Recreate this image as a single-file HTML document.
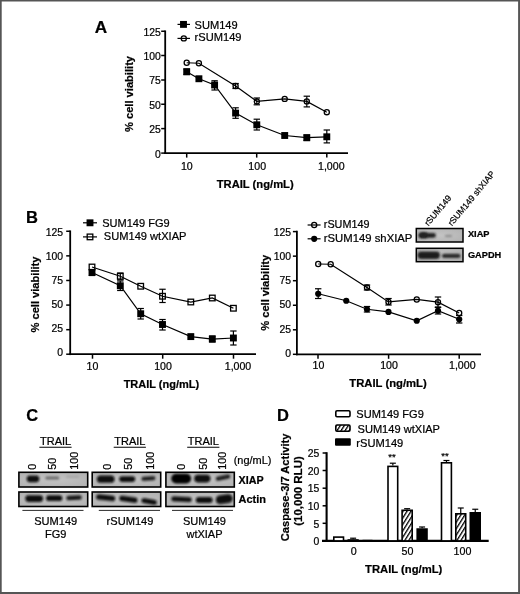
<!DOCTYPE html>
<html><head><meta charset="utf-8"><title>Figure</title>
<style>html,body{margin:0;padding:0;background:#fff}body{width:520px;height:594px;overflow:hidden}svg{display:block}svg text{font-family:"Liberation Sans",Arial,Helvetica,sans-serif;stroke:#000;stroke-width:0.22px}</style>
</head><body>
<svg width="520" height="594" viewBox="0 0 520 594" font-family="Liberation Sans, Arial, Helvetica, sans-serif" fill="#000">
<defs>
<filter id="b1" x="-30%" y="-80%" width="160%" height="260%"><feGaussianBlur stdDeviation="1"/></filter>
<radialGradient id="gel" cx="50%" cy="50%" r="70%"><stop offset="0" stop-color="#c4c4c4"/><stop offset="1" stop-color="#b1b1b1"/></radialGradient>
<pattern id="hat" width="3.4" height="3.4" patternUnits="userSpaceOnUse" patternTransform="rotate(-58)"><rect width="3.4" height="3.4" fill="#fff"/><rect width="3.4" height="1.3" fill="#000"/></pattern>
</defs>
<rect x="0" y="0" width="520" height="594" fill="#fff"/>
<rect x="0" y="0" width="520" height="1.5" fill="#555"/><rect x="0" y="0" width="1.7" height="594" fill="#555"/><rect x="518.1" y="0" width="1.9" height="594" fill="#555"/><rect x="0" y="592" width="520" height="2" fill="#555"/>
<text x="94.8" y="32.6" font-size="16.5" text-anchor="start" font-weight="bold" textLength="12.4" lengthAdjust="spacingAndGlyphs" >A</text>
<line x1="165.2" y1="30.45" x2="165.2" y2="154.0" stroke="#000" stroke-width="1.8" stroke-linecap="butt"/>
<line x1="164.29999999999998" y1="153.1" x2="348" y2="153.1" stroke="#000" stroke-width="1.8" stroke-linecap="butt"/>
<line x1="161.2" y1="31.25" x2="165.2" y2="31.25" stroke="#000" stroke-width="1.5" stroke-linecap="butt"/>
<text x="160.79999999999998" y="35.65" font-size="10.4" text-anchor="end" >125</text>
<line x1="161.2" y1="55.5" x2="165.2" y2="55.5" stroke="#000" stroke-width="1.5" stroke-linecap="butt"/>
<text x="160.79999999999998" y="59.900000000000006" font-size="10.4" text-anchor="end" >100</text>
<line x1="161.2" y1="80" x2="165.2" y2="80" stroke="#000" stroke-width="1.5" stroke-linecap="butt"/>
<text x="160.79999999999998" y="84.4" font-size="10.4" text-anchor="end" >75</text>
<line x1="161.2" y1="104.25" x2="165.2" y2="104.25" stroke="#000" stroke-width="1.5" stroke-linecap="butt"/>
<text x="160.79999999999998" y="108.65" font-size="10.4" text-anchor="end" >50</text>
<line x1="161.2" y1="128.6" x2="165.2" y2="128.6" stroke="#000" stroke-width="1.5" stroke-linecap="butt"/>
<text x="160.79999999999998" y="132.99999999999997" font-size="10.4" text-anchor="end" >25</text>
<line x1="161.2" y1="153.1" x2="165.2" y2="153.1" stroke="#000" stroke-width="1.5" stroke-linecap="butt"/>
<text x="160.79999999999998" y="157.49999999999997" font-size="10.4" text-anchor="end" >0</text>
<line x1="186.7" y1="153.1" x2="186.7" y2="157.6" stroke="#000" stroke-width="1.5" stroke-linecap="butt"/>
<text x="186.8" y="169.5" font-size="10.6" text-anchor="middle" >10</text>
<line x1="256.7" y1="153.1" x2="256.7" y2="157.6" stroke="#000" stroke-width="1.5" stroke-linecap="butt"/>
<text x="257.2" y="169.5" font-size="10.6" text-anchor="middle" >100</text>
<line x1="326.8" y1="153.1" x2="326.8" y2="157.6" stroke="#000" stroke-width="1.5" stroke-linecap="butt"/>
<text x="331.3" y="169.5" font-size="10.6" text-anchor="middle" >1,000</text>
<text x="255.2" y="188" font-size="11.6" text-anchor="middle" font-weight="bold" textLength="77" lengthAdjust="spacingAndGlyphs" >TRAIL (ng/mL)</text>
<text x="132.6" y="93.975" font-size="11.2" text-anchor="middle" font-weight="bold" transform="rotate(-90 132.6 93.975)" textLength="76" lengthAdjust="spacingAndGlyphs" >% cell viability</text>
<line x1="177.5" y1="24.4" x2="190" y2="24.4" stroke="#000" stroke-width="1.2" stroke-linecap="butt"/>
<rect x="180.05" y="20.95" width="6.9" height="6.9" fill="#000"/>
<text x="194.6" y="28.6" font-size="11" text-anchor="start" textLength="43.1" lengthAdjust="spacingAndGlyphs" >SUM149</text>
<line x1="177.5" y1="38.4" x2="190" y2="38.4" stroke="#000" stroke-width="1.2" stroke-linecap="butt"/>
<circle cx="183.8" cy="38.4" r="2.5500000000000003" fill="none" stroke="#000" stroke-width="1.3"/>
<text x="194.6" y="40.8" font-size="11" text-anchor="start" textLength="46.9" lengthAdjust="spacingAndGlyphs" >rSUM149</text>
<polyline fill="none" stroke="#000" stroke-width="1.25" points="186.7,62.75 198.9,63.25 235.6,86 256.8,101.4 284.7,98.9 306.8,101.4 326.8,112.2"/>
<polyline fill="none" stroke="#000" stroke-width="1.25" points="186.7,71.75 198.9,78.75 214.6,85 235.6,113.1 256.8,124.8 284.7,135.5 306.8,137.7 326.8,136.8"/>
<line x1="214.6" y1="80.75" x2="214.6" y2="90" stroke="#000" stroke-width="1.2" stroke-linecap="butt"/>
<line x1="211.4" y1="80.75" x2="217.79999999999998" y2="80.75" stroke="#000" stroke-width="1.2" stroke-linecap="butt"/>
<line x1="211.4" y1="90" x2="217.79999999999998" y2="90" stroke="#000" stroke-width="1.2" stroke-linecap="butt"/>
<line x1="235.6" y1="107.8" x2="235.6" y2="118.3" stroke="#000" stroke-width="1.2" stroke-linecap="butt"/>
<line x1="232.4" y1="107.8" x2="238.79999999999998" y2="107.8" stroke="#000" stroke-width="1.2" stroke-linecap="butt"/>
<line x1="232.4" y1="118.3" x2="238.79999999999998" y2="118.3" stroke="#000" stroke-width="1.2" stroke-linecap="butt"/>
<line x1="256.8" y1="119.2" x2="256.8" y2="130" stroke="#000" stroke-width="1.2" stroke-linecap="butt"/>
<line x1="253.60000000000002" y1="119.2" x2="260.0" y2="119.2" stroke="#000" stroke-width="1.2" stroke-linecap="butt"/>
<line x1="253.60000000000002" y1="130" x2="260.0" y2="130" stroke="#000" stroke-width="1.2" stroke-linecap="butt"/>
<line x1="326.8" y1="130" x2="326.8" y2="142.9" stroke="#000" stroke-width="1.2" stroke-linecap="butt"/>
<line x1="323.6" y1="130" x2="330.0" y2="130" stroke="#000" stroke-width="1.2" stroke-linecap="butt"/>
<line x1="323.6" y1="142.9" x2="330.0" y2="142.9" stroke="#000" stroke-width="1.2" stroke-linecap="butt"/>
<line x1="306.8" y1="135" x2="306.8" y2="140.5" stroke="#000" stroke-width="1.2" stroke-linecap="butt"/>
<line x1="303.6" y1="135" x2="310.0" y2="135" stroke="#000" stroke-width="1.2" stroke-linecap="butt"/>
<line x1="303.6" y1="140.5" x2="310.0" y2="140.5" stroke="#000" stroke-width="1.2" stroke-linecap="butt"/>
<line x1="186.7" y1="69" x2="186.7" y2="74.5" stroke="#000" stroke-width="1.2" stroke-linecap="butt"/>
<line x1="183.5" y1="69" x2="189.89999999999998" y2="69" stroke="#000" stroke-width="1.2" stroke-linecap="butt"/>
<line x1="183.5" y1="74.5" x2="189.89999999999998" y2="74.5" stroke="#000" stroke-width="1.2" stroke-linecap="butt"/>
<line x1="306.8" y1="96.2" x2="306.8" y2="106.9" stroke="#000" stroke-width="1.2" stroke-linecap="butt"/>
<line x1="303.6" y1="96.2" x2="310.0" y2="96.2" stroke="#000" stroke-width="1.2" stroke-linecap="butt"/>
<line x1="303.6" y1="106.9" x2="310.0" y2="106.9" stroke="#000" stroke-width="1.2" stroke-linecap="butt"/>
<line x1="256.8" y1="98" x2="256.8" y2="104.8" stroke="#000" stroke-width="1.2" stroke-linecap="butt"/>
<line x1="253.60000000000002" y1="98" x2="260.0" y2="98" stroke="#000" stroke-width="1.2" stroke-linecap="butt"/>
<line x1="253.60000000000002" y1="104.8" x2="260.0" y2="104.8" stroke="#000" stroke-width="1.2" stroke-linecap="butt"/>
<line x1="235.6" y1="83.5" x2="235.6" y2="88.5" stroke="#000" stroke-width="1.2" stroke-linecap="butt"/>
<line x1="232.4" y1="83.5" x2="238.79999999999998" y2="83.5" stroke="#000" stroke-width="1.2" stroke-linecap="butt"/>
<line x1="232.4" y1="88.5" x2="238.79999999999998" y2="88.5" stroke="#000" stroke-width="1.2" stroke-linecap="butt"/>
<rect x="183.25" y="68.3" width="6.9" height="6.9" fill="#000"/>
<rect x="195.45000000000002" y="75.3" width="6.9" height="6.9" fill="#000"/>
<rect x="211.15" y="81.55" width="6.9" height="6.9" fill="#000"/>
<rect x="232.15" y="109.64999999999999" width="6.9" height="6.9" fill="#000"/>
<rect x="253.35000000000002" y="121.35" width="6.9" height="6.9" fill="#000"/>
<rect x="281.25" y="132.05" width="6.9" height="6.9" fill="#000"/>
<rect x="303.35" y="134.25" width="6.9" height="6.9" fill="#000"/>
<rect x="323.35" y="133.35000000000002" width="6.9" height="6.9" fill="#000"/>
<circle cx="186.7" cy="62.75" r="2.5500000000000003" fill="none" stroke="#000" stroke-width="1.3"/>
<circle cx="198.9" cy="63.25" r="2.5500000000000003" fill="none" stroke="#000" stroke-width="1.3"/>
<circle cx="235.6" cy="86" r="2.5500000000000003" fill="none" stroke="#000" stroke-width="1.3"/>
<circle cx="256.8" cy="101.4" r="2.5500000000000003" fill="none" stroke="#000" stroke-width="1.3"/>
<circle cx="284.7" cy="98.9" r="2.5500000000000003" fill="none" stroke="#000" stroke-width="1.3"/>
<circle cx="306.8" cy="101.4" r="2.5500000000000003" fill="none" stroke="#000" stroke-width="1.3"/>
<circle cx="326.8" cy="112.2" r="2.5500000000000003" fill="none" stroke="#000" stroke-width="1.3"/>
<text x="26" y="223" font-size="16.5" text-anchor="start" font-weight="bold" >B</text>
<line x1="70.2" y1="230.45" x2="70.2" y2="355.09999999999997" stroke="#000" stroke-width="1.8" stroke-linecap="butt"/>
<line x1="69.3" y1="354.2" x2="256" y2="354.2" stroke="#000" stroke-width="1.8" stroke-linecap="butt"/>
<line x1="66.2" y1="231.25" x2="70.2" y2="231.25" stroke="#000" stroke-width="1.5" stroke-linecap="butt"/>
<text x="63.1" y="235.6" font-size="10.4" text-anchor="end" >125</text>
<line x1="66.2" y1="255.86" x2="70.2" y2="255.86" stroke="#000" stroke-width="1.5" stroke-linecap="butt"/>
<text x="63.1" y="259.7" font-size="10.4" text-anchor="end" >100</text>
<line x1="66.2" y1="280.47" x2="70.2" y2="280.47" stroke="#000" stroke-width="1.5" stroke-linecap="butt"/>
<text x="63.1" y="283.8" font-size="10.4" text-anchor="end" >75</text>
<line x1="66.2" y1="305.08" x2="70.2" y2="305.08" stroke="#000" stroke-width="1.5" stroke-linecap="butt"/>
<text x="63.1" y="308.0" font-size="10.4" text-anchor="end" >50</text>
<line x1="66.2" y1="329.69" x2="70.2" y2="329.69" stroke="#000" stroke-width="1.5" stroke-linecap="butt"/>
<text x="63.1" y="332.09999999999997" font-size="10.4" text-anchor="end" >25</text>
<line x1="66.2" y1="354.2" x2="70.2" y2="354.2" stroke="#000" stroke-width="1.5" stroke-linecap="butt"/>
<text x="63.1" y="356.3" font-size="10.4" text-anchor="end" >0</text>
<line x1="92.5" y1="354.2" x2="92.5" y2="358.7" stroke="#000" stroke-width="1.5" stroke-linecap="butt"/>
<text x="92.5" y="370.0" font-size="10.6" text-anchor="middle" >10</text>
<line x1="162.7" y1="354.2" x2="162.7" y2="358.7" stroke="#000" stroke-width="1.5" stroke-linecap="butt"/>
<text x="163" y="370.0" font-size="10.6" text-anchor="middle" >100</text>
<line x1="233.5" y1="354.2" x2="233.5" y2="358.7" stroke="#000" stroke-width="1.5" stroke-linecap="butt"/>
<text x="238" y="370.0" font-size="10.6" text-anchor="middle" >1,000</text>
<text x="161.4" y="388.3" font-size="11.6" text-anchor="middle" font-weight="bold" textLength="75.5" lengthAdjust="spacingAndGlyphs" >TRAIL (ng/mL)</text>
<text x="39" y="294.52500000000003" font-size="11.2" text-anchor="middle" font-weight="bold" transform="rotate(-90 39 294.52500000000003)" textLength="76" lengthAdjust="spacingAndGlyphs" >% cell viability</text>
<line x1="83" y1="222.8" x2="97" y2="222.8" stroke="#000" stroke-width="1.2" stroke-linecap="butt"/>
<rect x="86.55" y="219.35000000000002" width="6.9" height="6.9" fill="#000"/>
<text x="102.2" y="226.8" font-size="11" text-anchor="start" textLength="67.4" lengthAdjust="spacingAndGlyphs" >SUM149 FG9</text>
<line x1="83" y1="236.9" x2="97" y2="236.9" stroke="#000" stroke-width="1.2" stroke-linecap="butt"/>
<rect x="87.2" y="234.10000000000002" width="5.6000000000000005" height="5.6000000000000005" fill="none" stroke="#000" stroke-width="1.3"/>
<text x="103.8" y="240" font-size="11" text-anchor="start" textLength="82.7" lengthAdjust="spacingAndGlyphs" >SUM149 wtXIAP</text>
<polyline fill="none" stroke="#000" stroke-width="1.25" points="92,267 120.3,276.25 140.7,286.25 162.5,296.25 190.8,302 212.3,298 233.4,308.25"/>
<polyline fill="none" stroke="#000" stroke-width="1.25" points="92,272.5 120.3,285.75 140.7,313.75 162.5,324.5 190.8,336.6 212.3,339 233.4,338"/>
<line x1="162.5" y1="289.25" x2="162.5" y2="302.5" stroke="#000" stroke-width="1.2" stroke-linecap="butt"/>
<line x1="159.3" y1="289.25" x2="165.7" y2="289.25" stroke="#000" stroke-width="1.2" stroke-linecap="butt"/>
<line x1="159.3" y1="302.5" x2="165.7" y2="302.5" stroke="#000" stroke-width="1.2" stroke-linecap="butt"/>
<line x1="120.3" y1="281" x2="120.3" y2="290.5" stroke="#000" stroke-width="1.2" stroke-linecap="butt"/>
<line x1="117.1" y1="281" x2="123.5" y2="281" stroke="#000" stroke-width="1.2" stroke-linecap="butt"/>
<line x1="117.1" y1="290.5" x2="123.5" y2="290.5" stroke="#000" stroke-width="1.2" stroke-linecap="butt"/>
<line x1="140.7" y1="308.5" x2="140.7" y2="319" stroke="#000" stroke-width="1.2" stroke-linecap="butt"/>
<line x1="137.5" y1="308.5" x2="143.89999999999998" y2="308.5" stroke="#000" stroke-width="1.2" stroke-linecap="butt"/>
<line x1="137.5" y1="319" x2="143.89999999999998" y2="319" stroke="#000" stroke-width="1.2" stroke-linecap="butt"/>
<line x1="162.5" y1="319.5" x2="162.5" y2="330" stroke="#000" stroke-width="1.2" stroke-linecap="butt"/>
<line x1="159.3" y1="319.5" x2="165.7" y2="319.5" stroke="#000" stroke-width="1.2" stroke-linecap="butt"/>
<line x1="159.3" y1="330" x2="165.7" y2="330" stroke="#000" stroke-width="1.2" stroke-linecap="butt"/>
<line x1="233.4" y1="331" x2="233.4" y2="345" stroke="#000" stroke-width="1.2" stroke-linecap="butt"/>
<line x1="230.20000000000002" y1="331" x2="236.6" y2="331" stroke="#000" stroke-width="1.2" stroke-linecap="butt"/>
<line x1="230.20000000000002" y1="345" x2="236.6" y2="345" stroke="#000" stroke-width="1.2" stroke-linecap="butt"/>
<line x1="92" y1="269.5" x2="92" y2="275.5" stroke="#000" stroke-width="1.2" stroke-linecap="butt"/>
<line x1="88.8" y1="269.5" x2="95.2" y2="269.5" stroke="#000" stroke-width="1.2" stroke-linecap="butt"/>
<line x1="88.8" y1="275.5" x2="95.2" y2="275.5" stroke="#000" stroke-width="1.2" stroke-linecap="butt"/>
<line x1="212.3" y1="336" x2="212.3" y2="342" stroke="#000" stroke-width="1.2" stroke-linecap="butt"/>
<line x1="209.10000000000002" y1="336" x2="215.5" y2="336" stroke="#000" stroke-width="1.2" stroke-linecap="butt"/>
<line x1="209.10000000000002" y1="342" x2="215.5" y2="342" stroke="#000" stroke-width="1.2" stroke-linecap="butt"/>
<line x1="120.3" y1="273" x2="120.3" y2="279.8" stroke="#000" stroke-width="1.2" stroke-linecap="butt"/>
<line x1="117.1" y1="273" x2="123.5" y2="273" stroke="#000" stroke-width="1.2" stroke-linecap="butt"/>
<line x1="117.1" y1="279.8" x2="123.5" y2="279.8" stroke="#000" stroke-width="1.2" stroke-linecap="butt"/>
<rect x="88.55" y="269.05" width="6.9" height="6.9" fill="#000"/>
<rect x="116.85" y="282.3" width="6.9" height="6.9" fill="#000"/>
<rect x="137.25" y="310.3" width="6.9" height="6.9" fill="#000"/>
<rect x="159.05" y="321.05" width="6.9" height="6.9" fill="#000"/>
<rect x="187.35000000000002" y="333.15000000000003" width="6.9" height="6.9" fill="#000"/>
<rect x="208.85000000000002" y="335.55" width="6.9" height="6.9" fill="#000"/>
<rect x="229.95000000000002" y="334.55" width="6.9" height="6.9" fill="#000"/>
<rect x="89.2" y="264.2" width="5.6000000000000005" height="5.6000000000000005" fill="none" stroke="#000" stroke-width="1.3"/>
<rect x="117.5" y="273.45" width="5.6000000000000005" height="5.6000000000000005" fill="none" stroke="#000" stroke-width="1.3"/>
<rect x="137.9" y="283.45" width="5.6000000000000005" height="5.6000000000000005" fill="none" stroke="#000" stroke-width="1.3"/>
<rect x="159.70000000000002" y="293.45" width="5.6000000000000005" height="5.6000000000000005" fill="none" stroke="#000" stroke-width="1.3"/>
<rect x="188.00000000000003" y="299.2" width="5.6000000000000005" height="5.6000000000000005" fill="none" stroke="#000" stroke-width="1.3"/>
<rect x="209.50000000000003" y="295.2" width="5.6000000000000005" height="5.6000000000000005" fill="none" stroke="#000" stroke-width="1.3"/>
<rect x="230.60000000000002" y="305.45" width="5.6000000000000005" height="5.6000000000000005" fill="none" stroke="#000" stroke-width="1.3"/>
<line x1="296.9" y1="230.79999999999998" x2="296.9" y2="355.2" stroke="#000" stroke-width="1.8" stroke-linecap="butt"/>
<line x1="296.0" y1="354.3" x2="481" y2="354.3" stroke="#000" stroke-width="1.8" stroke-linecap="butt"/>
<line x1="292.9" y1="231.6" x2="296.9" y2="231.6" stroke="#000" stroke-width="1.5" stroke-linecap="butt"/>
<text x="291.09999999999997" y="235.89999999999998" font-size="10.4" text-anchor="end" >125</text>
<line x1="292.9" y1="256.15" x2="296.9" y2="256.15" stroke="#000" stroke-width="1.5" stroke-linecap="butt"/>
<text x="291.09999999999997" y="260.0" font-size="10.4" text-anchor="end" >100</text>
<line x1="292.9" y1="280.7" x2="296.9" y2="280.7" stroke="#000" stroke-width="1.5" stroke-linecap="butt"/>
<text x="291.09999999999997" y="284.0" font-size="10.4" text-anchor="end" >75</text>
<line x1="292.9" y1="305.25" x2="296.9" y2="305.25" stroke="#000" stroke-width="1.5" stroke-linecap="butt"/>
<text x="291.09999999999997" y="308.09999999999997" font-size="10.4" text-anchor="end" >50</text>
<line x1="292.9" y1="329.8" x2="296.9" y2="329.8" stroke="#000" stroke-width="1.5" stroke-linecap="butt"/>
<text x="291.09999999999997" y="332.59999999999997" font-size="10.4" text-anchor="end" >25</text>
<line x1="292.9" y1="354.3" x2="296.9" y2="354.3" stroke="#000" stroke-width="1.5" stroke-linecap="butt"/>
<text x="291.09999999999997" y="357.2" font-size="10.4" text-anchor="end" >0</text>
<line x1="318" y1="354.3" x2="318" y2="358.8" stroke="#000" stroke-width="1.5" stroke-linecap="butt"/>
<text x="318.5" y="369.1" font-size="10.6" text-anchor="middle" >10</text>
<line x1="388.6" y1="354.3" x2="388.6" y2="358.8" stroke="#000" stroke-width="1.5" stroke-linecap="butt"/>
<text x="389" y="369.1" font-size="10.6" text-anchor="middle" >100</text>
<line x1="459.2" y1="354.3" x2="459.2" y2="358.8" stroke="#000" stroke-width="1.5" stroke-linecap="butt"/>
<text x="462.3" y="369.1" font-size="10.6" text-anchor="middle" >1,000</text>
<text x="388" y="387.4" font-size="11.6" text-anchor="middle" font-weight="bold" textLength="77.5" lengthAdjust="spacingAndGlyphs" >TRAIL (ng/mL)</text>
<text x="269.1" y="292.75" font-size="11.2" text-anchor="middle" font-weight="bold" transform="rotate(-90 269.1 292.75)" textLength="76" lengthAdjust="spacingAndGlyphs" >% cell viability</text>
<line x1="307.6" y1="225" x2="320.6" y2="225" stroke="#000" stroke-width="1.2" stroke-linecap="butt"/>
<circle cx="314.2" cy="225" r="2.5500000000000003" fill="none" stroke="#000" stroke-width="1.3"/>
<text x="323.8" y="228" font-size="11" text-anchor="start" textLength="45.6" lengthAdjust="spacingAndGlyphs" >rSUM149</text>
<line x1="307.6" y1="238.8" x2="320.6" y2="238.8" stroke="#000" stroke-width="1.2" stroke-linecap="butt"/>
<circle cx="314.2" cy="238.8" r="3.1" fill="#000"/>
<text x="323.8" y="241.8" font-size="11" text-anchor="start" textLength="88.6" lengthAdjust="spacingAndGlyphs" >rSUM149 shXIAP</text>
<polyline fill="none" stroke="#000" stroke-width="1.25" points="318.2,264 330.7,264.25 367,287.5 388.5,301.9 416.75,299.5 438,302.2 459.2,313"/>
<polyline fill="none" stroke="#000" stroke-width="1.25" points="318.2,293.75 346.25,300.75 367,309.25 388.5,311.9 416.75,320.75 438,310.75 459.2,319.25"/>
<line x1="318.2" y1="288.75" x2="318.2" y2="298.5" stroke="#000" stroke-width="1.2" stroke-linecap="butt"/>
<line x1="315.0" y1="288.75" x2="321.4" y2="288.75" stroke="#000" stroke-width="1.2" stroke-linecap="butt"/>
<line x1="315.0" y1="298.5" x2="321.4" y2="298.5" stroke="#000" stroke-width="1.2" stroke-linecap="butt"/>
<line x1="367" y1="306.5" x2="367" y2="312" stroke="#000" stroke-width="1.2" stroke-linecap="butt"/>
<line x1="363.8" y1="306.5" x2="370.2" y2="306.5" stroke="#000" stroke-width="1.2" stroke-linecap="butt"/>
<line x1="363.8" y1="312" x2="370.2" y2="312" stroke="#000" stroke-width="1.2" stroke-linecap="butt"/>
<line x1="438" y1="307.5" x2="438" y2="314" stroke="#000" stroke-width="1.2" stroke-linecap="butt"/>
<line x1="434.8" y1="307.5" x2="441.2" y2="307.5" stroke="#000" stroke-width="1.2" stroke-linecap="butt"/>
<line x1="434.8" y1="314" x2="441.2" y2="314" stroke="#000" stroke-width="1.2" stroke-linecap="butt"/>
<line x1="459.2" y1="315.5" x2="459.2" y2="323" stroke="#000" stroke-width="1.2" stroke-linecap="butt"/>
<line x1="456.0" y1="315.5" x2="462.4" y2="315.5" stroke="#000" stroke-width="1.2" stroke-linecap="butt"/>
<line x1="456.0" y1="323" x2="462.4" y2="323" stroke="#000" stroke-width="1.2" stroke-linecap="butt"/>
<line x1="367" y1="285" x2="367" y2="290" stroke="#000" stroke-width="1.2" stroke-linecap="butt"/>
<line x1="363.8" y1="285" x2="370.2" y2="285" stroke="#000" stroke-width="1.2" stroke-linecap="butt"/>
<line x1="363.8" y1="290" x2="370.2" y2="290" stroke="#000" stroke-width="1.2" stroke-linecap="butt"/>
<line x1="388.5" y1="298.5" x2="388.5" y2="305" stroke="#000" stroke-width="1.2" stroke-linecap="butt"/>
<line x1="385.3" y1="298.5" x2="391.7" y2="298.5" stroke="#000" stroke-width="1.2" stroke-linecap="butt"/>
<line x1="385.3" y1="305" x2="391.7" y2="305" stroke="#000" stroke-width="1.2" stroke-linecap="butt"/>
<line x1="438" y1="297" x2="438" y2="307" stroke="#000" stroke-width="1.2" stroke-linecap="butt"/>
<line x1="434.8" y1="297" x2="441.2" y2="297" stroke="#000" stroke-width="1.2" stroke-linecap="butt"/>
<line x1="434.8" y1="307" x2="441.2" y2="307" stroke="#000" stroke-width="1.2" stroke-linecap="butt"/>
<circle cx="318.2" cy="293.75" r="3.1" fill="#000"/>
<circle cx="346.25" cy="300.75" r="3.1" fill="#000"/>
<circle cx="367" cy="309.25" r="3.1" fill="#000"/>
<circle cx="388.5" cy="311.9" r="3.1" fill="#000"/>
<circle cx="416.75" cy="320.75" r="3.1" fill="#000"/>
<circle cx="438" cy="310.75" r="3.1" fill="#000"/>
<circle cx="459.2" cy="319.25" r="3.1" fill="#000"/>
<circle cx="318.2" cy="264" r="2.5500000000000003" fill="none" stroke="#000" stroke-width="1.3"/>
<circle cx="330.7" cy="264.25" r="2.5500000000000003" fill="none" stroke="#000" stroke-width="1.3"/>
<circle cx="367" cy="287.5" r="2.5500000000000003" fill="none" stroke="#000" stroke-width="1.3"/>
<circle cx="388.5" cy="301.9" r="2.5500000000000003" fill="none" stroke="#000" stroke-width="1.3"/>
<circle cx="416.75" cy="299.5" r="2.5500000000000003" fill="none" stroke="#000" stroke-width="1.3"/>
<circle cx="438" cy="302.2" r="2.5500000000000003" fill="none" stroke="#000" stroke-width="1.3"/>
<circle cx="459.2" cy="313" r="2.5500000000000003" fill="none" stroke="#000" stroke-width="1.3"/>
<rect x="416.3" y="228.5" width="46.7" height="13.5" fill="url(#gel)" stroke="#000" stroke-width="1.5"/>
<rect x="416.3" y="248.3" width="46.7" height="13.4" fill="url(#gel)" stroke="#000" stroke-width="1.5"/>
<rect x="418.7" y="233.0" width="17.2" height="4.8" rx="2.4" fill="#242424" filter="url(#b1)" transform="rotate(0 427.3 235.4)"/>
<rect x="419.3" y="232.2" width="8.4" height="6" rx="3" fill="#242424" filter="url(#b1)" transform="rotate(0 423.5 235.2)"/>
<rect x="444.9" y="234.9" width="7.2" height="2.2" rx="1.1" fill="#8a8a8a" filter="url(#b1)" transform="rotate(0 448.5 236)"/>
<rect x="417.6" y="251.5" width="22.4" height="7.4" rx="3.7" fill="#1e1e1e" filter="url(#b1)" transform="rotate(0 428.8 255.2)"/>
<rect x="441.9" y="253.8" width="18.6" height="4.2" rx="2.1" fill="#2a2a2a" filter="url(#b1)" transform="rotate(0 451.2 255.9)"/>
<text x="467.9" y="236.8" font-size="9.1" text-anchor="start" font-weight="bold" textLength="21.6" lengthAdjust="spacingAndGlyphs" >XIAP</text>
<text x="467.9" y="257.5" font-size="9.1" text-anchor="start" font-weight="bold" textLength="33.4" lengthAdjust="spacingAndGlyphs" >GAPDH</text>
<text x="428.5" y="226.5" font-size="8.7" text-anchor="start" transform="rotate(-50.4 428.5 226.5)" >rSUM149</text>
<text x="452" y="226.5" font-size="8.7" text-anchor="start" transform="rotate(-50.4 452 226.5)" >rSUM149 shXIAP</text>
<text x="26.2" y="421.2" font-size="16.5" text-anchor="start" font-weight="bold" >C</text>
<rect x="18.900000000000002" y="472.3" width="68.80000000000001" height="14.700000000000001" fill="url(#gel)" stroke="#000" stroke-width="1.6"/>
<rect x="18.900000000000002" y="492.0" width="68.80000000000001" height="14.500000000000002" fill="url(#gel)" stroke="#000" stroke-width="1.6"/>
<rect x="92.2" y="472.3" width="68.5" height="14.700000000000001" fill="url(#gel)" stroke="#000" stroke-width="1.6"/>
<rect x="92.2" y="492.0" width="68.5" height="14.500000000000002" fill="url(#gel)" stroke="#000" stroke-width="1.6"/>
<rect x="165.9" y="472.3" width="68.4" height="14.700000000000001" fill="url(#gel)" stroke="#000" stroke-width="1.6"/>
<rect x="165.9" y="492.0" width="68.4" height="14.500000000000002" fill="url(#gel)" stroke="#000" stroke-width="1.6"/>
<line x1="22.4" y1="510.4" x2="83.5" y2="510.4" stroke="#111" stroke-width="0.9" stroke-linecap="butt"/>
<line x1="98.8" y1="510.4" x2="160" y2="510.4" stroke="#111" stroke-width="0.9" stroke-linecap="butt"/>
<line x1="172" y1="510.4" x2="233" y2="510.4" stroke="#111" stroke-width="0.9" stroke-linecap="butt"/>
<text x="55.6" y="445.2" font-size="10.2" text-anchor="middle" textLength="31.2" lengthAdjust="spacingAndGlyphs" >TRAIL</text>
<line x1="39.400000000000006" y1="447.2" x2="71.6" y2="447.2" stroke="#000" stroke-width="1.1" stroke-linecap="butt"/>
<text x="129.9" y="445.2" font-size="10.2" text-anchor="middle" textLength="31.2" lengthAdjust="spacingAndGlyphs" >TRAIL</text>
<line x1="113.7" y1="447.2" x2="145.9" y2="447.2" stroke="#000" stroke-width="1.1" stroke-linecap="butt"/>
<text x="203.4" y="445.2" font-size="10.2" text-anchor="middle" textLength="31.2" lengthAdjust="spacingAndGlyphs" >TRAIL</text>
<line x1="187.20000000000002" y1="447.2" x2="219.4" y2="447.2" stroke="#000" stroke-width="1.1" stroke-linecap="butt"/>
<text x="36.300000000000004" y="469.7" font-size="10.8" text-anchor="start" transform="rotate(-90 36.300000000000004 469.7)" >0</text>
<text x="56.2" y="469.7" font-size="10.8" text-anchor="start" transform="rotate(-90 56.2 469.7)" >50</text>
<text x="77.9" y="469.7" font-size="10.8" text-anchor="start" transform="rotate(-90 77.9 469.7)" >100</text>
<text x="111.0" y="469.7" font-size="10.8" text-anchor="start" transform="rotate(-90 111.0 469.7)" >0</text>
<text x="131.89999999999998" y="469.7" font-size="10.8" text-anchor="start" transform="rotate(-90 131.89999999999998 469.7)" >50</text>
<text x="153.6" y="469.7" font-size="10.8" text-anchor="start" transform="rotate(-90 153.6 469.7)" >100</text>
<text x="184.79999999999998" y="469.7" font-size="10.8" text-anchor="start" transform="rotate(-90 184.79999999999998 469.7)" >0</text>
<text x="206.6" y="469.7" font-size="10.8" text-anchor="start" transform="rotate(-90 206.6 469.7)" >50</text>
<text x="226.1" y="469.7" font-size="10.8" text-anchor="start" transform="rotate(-90 226.1 469.7)" >100</text>
<text x="233.7" y="464.3" font-size="10.9" text-anchor="start" textLength="37.8" lengthAdjust="spacingAndGlyphs" >(ng/mL)</text>
<text x="238.6" y="484.4" font-size="10.6" text-anchor="start" font-weight="bold" textLength="25" lengthAdjust="spacingAndGlyphs" >XIAP</text>
<text x="238.6" y="503.2" font-size="10.6" text-anchor="start" font-weight="bold" textLength="27.4" lengthAdjust="spacingAndGlyphs" >Actin</text>
<text x="55.75" y="524.6" font-size="11" text-anchor="middle" textLength="43" lengthAdjust="spacingAndGlyphs" >SUM149</text>
<text x="55.75" y="538" font-size="11" text-anchor="middle" >FG9</text>
<text x="130" y="524.8" font-size="11" text-anchor="middle" textLength="46.8" lengthAdjust="spacingAndGlyphs" >rSUM149</text>
<text x="204.5" y="524.8" font-size="11" text-anchor="middle" textLength="43" lengthAdjust="spacingAndGlyphs" >SUM149</text>
<text x="204.5" y="538" font-size="11" text-anchor="middle" >wtXIAP</text>
<rect x="26.66" y="475.4" width="12.68" height="6.8" rx="3.4" fill="#111" filter="url(#b1)" transform="rotate(0 33 478.8)"/>
<rect x="45.29" y="476.5" width="14.02" height="3.0" rx="1.5" fill="#6a6a6a" filter="url(#b1)" transform="rotate(0 52.3 478)"/>
<rect x="65.98" y="475.7" width="13.44" height="1.8" rx="0.9" fill="#a2a2a2" filter="url(#b1)" transform="rotate(0 72.7 476.6)"/>
<rect x="25.27" y="495.2" width="17.86" height="6.8" rx="3.4" fill="#0c0c0c" filter="url(#b1)" transform="rotate(0 34.2 498.6)"/>
<rect x="46.04" y="495.3" width="16.32" height="5.8" rx="2.9" fill="#111" filter="url(#b1)" transform="rotate(0 54.2 498.2)"/>
<rect x="66.22" y="495.5" width="15.56" height="4.4" rx="2.2" fill="#151515" filter="url(#b1)" transform="rotate(-3 74 497.7)"/>
<rect x="96.87" y="475.6" width="17.66" height="7.2" rx="3.6" fill="#0a0a0a" filter="url(#b1)" transform="rotate(0 105.7 479.2)"/>
<rect x="119.14" y="476.3" width="16.12" height="5.6" rx="2.8" fill="#111" filter="url(#b1)" transform="rotate(0 127.2 479.1)"/>
<rect x="141.39" y="476.4" width="14.02" height="4.2" rx="2.1" fill="#141414" filter="url(#b1)" transform="rotate(-4 148.4 478.5)"/>
<rect x="96.1" y="494.9" width="19.2" height="5.6" rx="2.8" fill="#0e0e0e" filter="url(#b1)" transform="rotate(6 105.7 497.7)"/>
<rect x="119.18" y="496.5" width="18.44" height="5.6" rx="2.8" fill="#0e0e0e" filter="url(#b1)" transform="rotate(8 128.4 499.3)"/>
<rect x="141.32" y="499.1" width="15.56" height="5.0" rx="2.5" fill="#0e0e0e" filter="url(#b1)" transform="rotate(10 149.1 501.6)"/>
<rect x="171.22" y="473.7" width="19.96" height="9.8" rx="4.9" fill="#060606" filter="url(#b1)" transform="rotate(0 181.2 478.6)"/>
<rect x="194.14" y="474.8" width="16.32" height="7.6" rx="3.8" fill="#0a0a0a" filter="url(#b1)" transform="rotate(0 202.3 478.6)"/>
<rect x="215.61" y="475.4" width="14.78" height="4.4" rx="2.2" fill="#1a1a1a" filter="url(#b1)" transform="rotate(-12 223 477.6)"/>
<rect x="171.23" y="496.8" width="20.54" height="5.0" rx="2.5" fill="#101010" filter="url(#b1)" transform="rotate(3 181.5 499.3)"/>
<rect x="195.75" y="497" width="16.9" height="6" rx="3.0" fill="#0c0c0c" filter="url(#b1)" transform="rotate(0 204.2 500)"/>
<rect x="215.75" y="494.8" width="16.9" height="8.8" rx="4.4" fill="#0a0a0a" filter="url(#b1)" transform="rotate(-8 224.2 499.2)"/>
<text x="277" y="421" font-size="16.5" text-anchor="start" font-weight="bold" >D</text>
<line x1="326.6" y1="452.2" x2="326.6" y2="541.8" stroke="#000" stroke-width="2.1" stroke-linecap="butt"/>
<line x1="322" y1="540.9" x2="488.7" y2="540.9" stroke="#000" stroke-width="2.1" stroke-linecap="butt"/>
<line x1="322.6" y1="453" x2="326.6" y2="453" stroke="#000" stroke-width="1.5" stroke-linecap="butt"/>
<text x="319.40000000000003" y="457.2" font-size="10.4" text-anchor="end" >25</text>
<line x1="322.6" y1="470.5" x2="326.6" y2="470.5" stroke="#000" stroke-width="1.5" stroke-linecap="butt"/>
<text x="319.40000000000003" y="474.7" font-size="10.4" text-anchor="end" >20</text>
<line x1="322.6" y1="488.2" x2="326.6" y2="488.2" stroke="#000" stroke-width="1.5" stroke-linecap="butt"/>
<text x="319.40000000000003" y="492.4" font-size="10.4" text-anchor="end" >15</text>
<line x1="322.6" y1="505.8" x2="326.6" y2="505.8" stroke="#000" stroke-width="1.5" stroke-linecap="butt"/>
<text x="319.40000000000003" y="510.0" font-size="10.4" text-anchor="end" >10</text>
<line x1="322.6" y1="523.3" x2="326.6" y2="523.3" stroke="#000" stroke-width="1.5" stroke-linecap="butt"/>
<text x="319.40000000000003" y="527.5" font-size="10.4" text-anchor="end" >5</text>
<line x1="322.6" y1="540.8" x2="326.6" y2="540.8" stroke="#000" stroke-width="1.5" stroke-linecap="butt"/>
<text x="319.40000000000003" y="545.0" font-size="10.4" text-anchor="end" >0</text>
<text x="289.3" y="487.4" font-size="11.2" text-anchor="middle" font-weight="bold" transform="rotate(-90 289.3 487.4)" textLength="107.5" lengthAdjust="spacingAndGlyphs" >Caspase-3/7 Activity</text>
<text x="302.3" y="491" font-size="11.2" text-anchor="middle" font-weight="bold" transform="rotate(-90 302.3 491)" textLength="69.5" lengthAdjust="spacingAndGlyphs" >(10,000 RLU)</text>
<text x="403.7" y="572.5" font-size="11.6" text-anchor="middle" font-weight="bold" textLength="77.2" lengthAdjust="spacingAndGlyphs" >TRAIL (ng/mL)</text>
<text x="353.75" y="555.2" font-size="10.7" text-anchor="middle" >0</text>
<text x="407.5" y="555.2" font-size="10.7" text-anchor="middle" >50</text>
<text x="462.5" y="555.2" font-size="10.7" text-anchor="middle" >100</text>
<rect x="335.8" y="410.8" width="14.2" height="6" rx="1.2" fill="#fff" stroke="#000" stroke-width="1.6"/>
<rect x="335.8" y="425" width="14.2" height="6.2" rx="1.2" fill="url(#hat)" stroke="#000" stroke-width="1.6"/>
<rect x="335" y="438.3" width="15.8" height="7.5" rx="1" fill="#000"/>
<text x="356.3" y="418.2" font-size="11" text-anchor="start" textLength="67.5" lengthAdjust="spacingAndGlyphs" >SUM149 FG9</text>
<text x="357.5" y="432.5" font-size="11" text-anchor="start" textLength="82.5" lengthAdjust="spacingAndGlyphs" >SUM149 wtXIAP</text>
<text x="356.3" y="446.7" font-size="11" text-anchor="start" textLength="47" lengthAdjust="spacingAndGlyphs" >rSUM149</text>
<rect x="333.8" y="537.0999999999999" width="9.700000000000012" height="3.800000000000023" fill="#fff" stroke="#000" stroke-width="1.6"/>
<rect x="348.3" y="540.0" width="9.65" height="0.8999999999999317" fill="url(#hat)" stroke="#000" stroke-width="1.6"/>
<line x1="353.125" y1="538.2" x2="353.125" y2="539.2" stroke="#000" stroke-width="1.2" stroke-linecap="butt"/>
<line x1="350.125" y1="538.2" x2="356.125" y2="538.2" stroke="#000" stroke-width="1.2" stroke-linecap="butt"/>
<rect x="362.5" y="539.8" width="10.0" height="1.1000000000000227" fill="#000"/>
<rect x="388.0" y="466.40000000000003" width="9.700000000000012" height="74.49999999999996" fill="#fff" stroke="#000" stroke-width="1.6"/>
<line x1="392.85" y1="463.2" x2="392.85" y2="465.6" stroke="#000" stroke-width="1.2" stroke-linecap="butt"/>
<line x1="389.85" y1="463.2" x2="395.85" y2="463.2" stroke="#000" stroke-width="1.2" stroke-linecap="butt"/>
<rect x="402.1" y="510.3" width="10.099999999999989" height="30.599999999999977" fill="url(#hat)" stroke="#000" stroke-width="1.6"/>
<line x1="407.15" y1="508.7" x2="407.15" y2="509.5" stroke="#000" stroke-width="1.2" stroke-linecap="butt"/>
<line x1="404.15" y1="508.7" x2="410.15" y2="508.7" stroke="#000" stroke-width="1.2" stroke-linecap="butt"/>
<rect x="416.4" y="528.25" width="11.400000000000034" height="12.649999999999977" fill="#000"/>
<line x1="422.1" y1="527" x2="422.1" y2="528.25" stroke="#000" stroke-width="1.2" stroke-linecap="butt"/>
<line x1="419.1" y1="527" x2="425.1" y2="527" stroke="#000" stroke-width="1.2" stroke-linecap="butt"/>
<rect x="441.5" y="462.8" width="9.9" height="78.09999999999998" fill="#fff" stroke="#000" stroke-width="1.6"/>
<line x1="446.45" y1="460.5" x2="446.45" y2="462" stroke="#000" stroke-width="1.2" stroke-linecap="butt"/>
<line x1="443.45" y1="460.5" x2="449.45" y2="460.5" stroke="#000" stroke-width="1.2" stroke-linecap="butt"/>
<rect x="455.8" y="513.8" width="9.9" height="27.099999999999977" fill="url(#hat)" stroke="#000" stroke-width="1.6"/>
<line x1="460.75" y1="508" x2="460.75" y2="513" stroke="#000" stroke-width="1.2" stroke-linecap="butt"/>
<line x1="457.75" y1="508" x2="463.75" y2="508" stroke="#000" stroke-width="1.2" stroke-linecap="butt"/>
<rect x="469.5" y="512" width="11.5" height="28.899999999999977" fill="#000"/>
<line x1="475.25" y1="509.25" x2="475.25" y2="512" stroke="#000" stroke-width="1.2" stroke-linecap="butt"/>
<line x1="472.25" y1="509.25" x2="478.25" y2="509.25" stroke="#000" stroke-width="1.2" stroke-linecap="butt"/>
<text x="391.9" y="460.3" font-size="9.5" text-anchor="middle" >**</text>
<text x="444.9" y="458.6" font-size="9.5" text-anchor="middle" >**</text>
</svg>
</body></html>
